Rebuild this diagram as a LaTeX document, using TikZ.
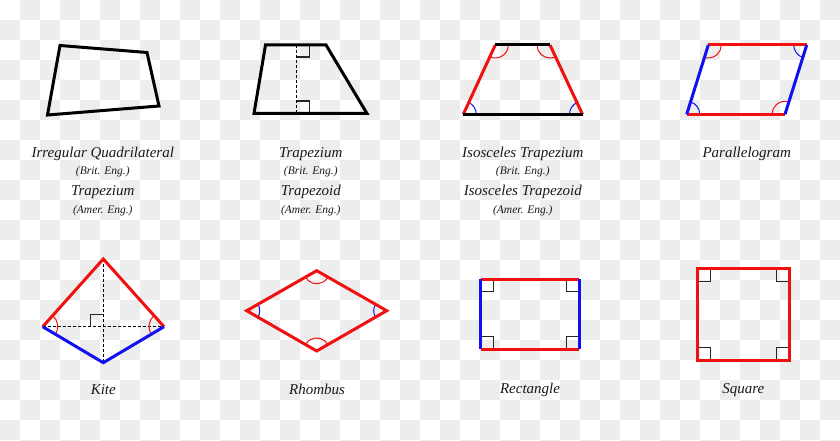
\documentclass[tikz,border=0pt]{standalone}
\usepackage{fontspec}
\setmainfont{Liberation Serif}
\usetikzlibrary{angles,calc}
\definecolor{chk}{HTML}{EDEDED}
\definecolor{shred}{HTML}{F01010}
\definecolor{shblue}{HTML}{1010F0}
\definecolor{txt}{HTML}{1A1A1A}
\begin{document}
\begin{tikzpicture}[x=1pt,y=-1pt,
  edge/.style={line width=3pt},
  redge/.style={line width=3pt,draw=shred},
  bedge/.style={line width=3pt,draw=shblue},
  diag/.style={line width=1.1pt,dash pattern=on 3pt off 2pt},
  rmark/.style={line width=1.1pt,draw=black!85},
  rarc/.style={draw=shred,line width=1pt,angle radius=13pt},
  barc/.style={draw=shblue,line width=1pt,angle radius=13pt},
  big/.style={font=\fontsize{15}{17}\selectfont\itshape,text=txt,inner sep=0pt},
  small/.style={font=\fontsize{11.5}{13}\selectfont\itshape,text=txt,inner sep=0pt}]
\useasboundingbox (0,0) rectangle (840,441);
\fill[white] (0,0) rectangle (840,441);
\begin{scope}
\clip (0,0) rectangle (840,441);
\foreach \j in {0,2,...,22} \foreach \i in {1,3,...,41} \fill[chk] (\i*20,\j*20) rectangle +(20,20);
\foreach \j in {1,3,...,21} \foreach \i in {0,2,...,40} \fill[chk] (\i*20,\j*20) rectangle +(20,20);
\end{scope}

% 1 irregular quadrilateral
\coordinate (q1) at (60,45.5);
\coordinate (q2) at (147,52.5);
\coordinate (q3) at (159,106);
\coordinate (q4) at (47.5,115);
\draw[edge,line join=miter] (q1) -- (q2) -- (q3) -- (q4) -- cycle;

% 2 trapezium
\coordinate (t1) at (265.5,45);
\coordinate (t2) at (326,45);
\coordinate (t3) at (367,113.5);
\coordinate (t4) at (254,113.5);
\coordinate (th) at (296.7,45);
\coordinate (tf) at (296.7,113.5);
\draw[diag] (th) -- (tf);
\draw[rmark] ($(th)+(0,12)$) -- ++(12.6,0) -- ++(0,-12);
\draw[rmark] ($(tf)+(0,-12.5)$) -- ++(12.6,0) -- ++(0,12.5);
\draw[edge,line join=miter] (t1) -- (t2) -- (t3) -- (t4) -- cycle;

% 3 isosceles trapezium
\coordinate (i1) at (495.3,45);
\coordinate (i2) at (550,45);
\coordinate (i3) at (582.5,114.3);
\coordinate (i4) at (463.3,114.3);
\pic[rarc] {angle=i4--i1--i2};
\pic[rarc] {angle=i1--i2--i3};
\pic[barc] {angle=i2--i3--i4};
\pic[barc] {angle=i3--i4--i1};
\draw[redge] (i2) -- (i3);
\draw[redge] (i4) -- (i1);
\draw[edge] (i1) -- (i2);
\draw[edge] (i3) -- (i4);

% 4 parallelogram
\coordinate (p1) at (708.3,45);
\coordinate (p2) at (806.7,45);
\coordinate (p3) at (785,114.3);
\coordinate (p4) at (686.7,114.3);
\pic[rarc] {angle=p4--p1--p2};
\pic[barc] {angle=p1--p2--p3};
\pic[rarc] {angle=p2--p3--p4};
\pic[barc] {angle=p3--p4--p1};
\draw[redge] (p1) -- (p2);
\draw[redge] (p3) -- (p4);
\draw[bedge] (p2) -- (p3);
\draw[bedge] (p4) -- (p1);

% 5 kite
\coordinate (k1) at (103.3,259);
\coordinate (k2) at (164,326.7);
\coordinate (k3) at (103.3,362.7);
\coordinate (k4) at (42.7,326.7);
\coordinate (kc) at (103.3,326.7);
\draw[diag] (k1) -- (k3);
\draw[diag] (k4) -- (k2);
\draw[rmark] ($(kc)+(-12.6,0)$) -- ++(0,-12.6) -- ++(12.6,0);
\pic[rarc,angle radius=15pt] {angle=k1--k2--k3};
\pic[rarc,angle radius=15pt] {angle=k3--k4--k1};
\draw[redge] (k4) -- (k1) -- (k2);
\draw[bedge] (k2) -- (k3) -- (k4);

% 6 rhombus
\coordinate (r1) at (316.7,270.7);
\coordinate (r2) at (386.7,310.7);
\coordinate (r3) at (316.7,351);
\coordinate (r4) at (246.7,310.7);
\pic[rarc] {angle=r4--r1--r2};
\pic[barc] {angle=r1--r2--r3};
\pic[rarc] {angle=r2--r3--r4};
\pic[barc] {angle=r3--r4--r1};
\draw[redge,line join=miter] (r1) -- (r2) -- (r3) -- (r4) -- cycle;

% 7 rectangle
\coordinate (e1) at (480.7,279);
\coordinate (e2) at (579,279);
\coordinate (e3) at (579,349);
\coordinate (e4) at (480.7,349);
\draw[rmark] ($(e1)+(0,12.6)$) -- ++(12.6,0) -- ++(0,-12.6);
\draw[rmark] ($(e2)+(0,12.6)$) -- ++(-12.6,0) -- ++(0,-12.6);
\draw[rmark] ($(e3)+(0,-12.6)$) -- ++(-12.6,0) -- ++(0,12.6);
\draw[rmark] ($(e4)+(0,-12.6)$) -- ++(12.6,0) -- ++(0,12.6);
\draw[redge] (e1) -- (e2);
\draw[redge] (e3) -- (e4);
\draw[bedge] (e2) -- (e3);
\draw[bedge] (e4) -- (e1);

% 8 square
\coordinate (s1) at (697.3,268.3);
\coordinate (s2) at (789.3,268.3);
\coordinate (s3) at (789.3,360.3);
\coordinate (s4) at (697.3,360.3);
\draw[rmark] ($(s1)+(0,13)$) -- ++(13,0) -- ++(0,-13);
\draw[rmark] ($(s2)+(0,13)$) -- ++(-13,0) -- ++(0,-13);
\draw[rmark] ($(s3)+(0,-13)$) -- ++(-13,0) -- ++(0,13);
\draw[rmark] ($(s4)+(0,-13)$) -- ++(13,0) -- ++(0,13);
\draw[redge,line join=miter] (s1) -- (s2) -- (s3) -- (s4) -- cycle;

% labels
\node[big]   (l1a) at (102.8,153.8) {Irregular Quadrilateral};
\node[small] (l1b) at (102.8,172.2) {(Brit. Eng.)};
\node[big]   (l1c) at (102.8,192.2) {Trapezium};
\node[small] (l1d) at (102.8,210.5) {(Amer. Eng.)};
\node[big]   (l2a) at (310.8,153.8) {Trapezium};
\node[small] (l2b) at (310.8,172.2) {(Brit. Eng.)};
\node[big]   (l2c) at (310.8,192.2) {Trapezoid};
\node[small] (l2d) at (310.8,210.5) {(Amer. Eng.)};
\node[big]   (l3a) at (522.8,153.8) {Isosceles Trapezium};
\node[small] (l3b) at (522.8,172.2) {(Brit. Eng.)};
\node[big]   (l3c) at (522.8,192.2) {Isosceles Trapezoid};
\node[small] (l3d) at (522.8,210.5) {(Amer. Eng.)};
\node[big]   (l4a) at (746.7,153.8) {Parallelogram};
\node[big]   (l5)  at (103.3,389.8) {Kite};
\node[big]   (l6)  at (317,389.8)   {Rhombus};
\node[big]   (l7)  at (530,389.8)   {Rectangle};
\node[big]   (l8)  at (743.3,389.8) {Square};
\end{tikzpicture}
\end{document}
